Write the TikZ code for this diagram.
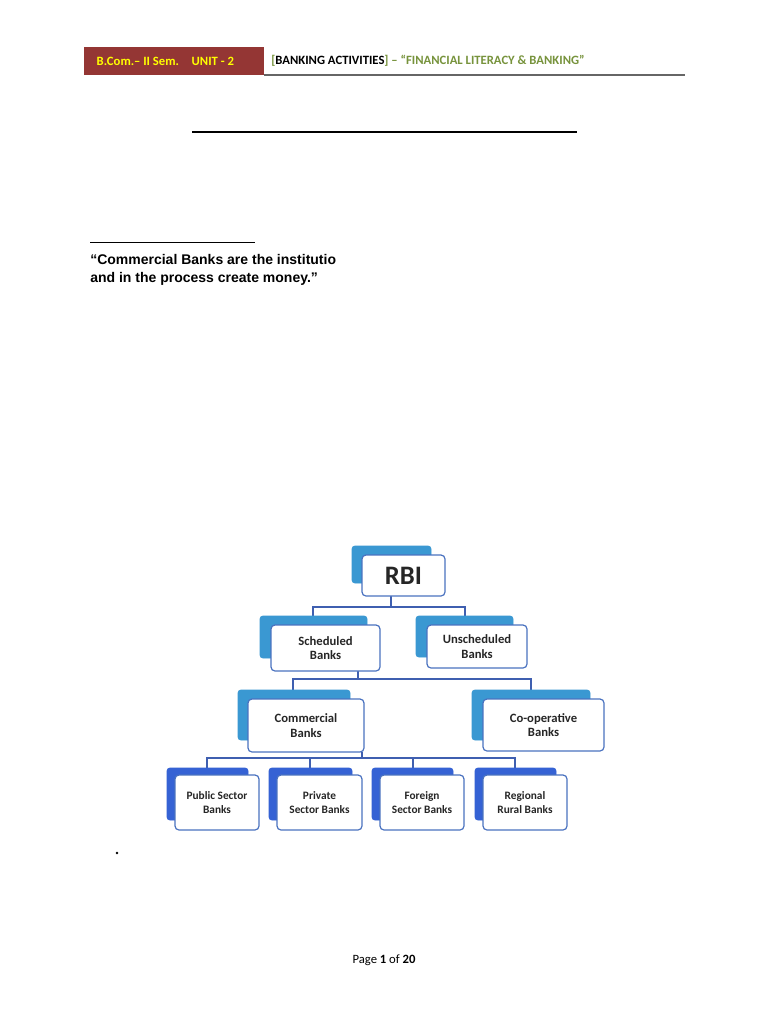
\documentclass[tikz,border=0pt]{standalone}
\usepackage{fontspec}
\setmainfont{Carlito}
\newfontfamily\arialf{Liberation Sans}
\definecolor{hdrred}{HTML}{943634}
\definecolor{hdryel}{HTML}{FFFF00}
\definecolor{hdrgrn}{HTML}{77933C}
\definecolor{lblue}{HTML}{3A98D2}
\definecolor{dblue}{HTML}{3562D4}
\definecolor{edgeb}{HTML}{4A72C0}
\definecolor{conn}{HTML}{3F5FB0}
\begin{document}
\begin{tikzpicture}[x=0.75pt,y=-0.75pt,
  backbox/.style={fill=#1,draw=#1,rounded corners=2pt},
  frontbox/.style={fill=white,draw=edgeb,line width=0.9pt,rounded corners=3pt},
  lbl/.style={font=\fontsize{9.5}{11}\selectfont\bfseries,align=center,text=black!85},
  smlbl/.style={font=\fontsize{8.5}{10}\selectfont\bfseries,align=center,text=black!85},
  conline/.style={draw=conn,line width=1pt}]
\useasboundingbox (0,0) rectangle (768,1024);
\fill[white] (0,0) rectangle (768,1024);
% header
\fill[hdrred] (84,47) rectangle (264,75);
\node[anchor=west,text=hdryel,font=\fontsize{9.5}{11}\selectfont\bfseries] (h1) at (92,61) {B.Com.– II Sem.\quad UNIT - 2};
\node[anchor=west,font=\fontsize{9.5}{11}\selectfont\bfseries,inner sep=0] (h2) at (271,61) {\textcolor{hdrgrn}{[}BANKING ACTIVITIES\textcolor{hdrgrn}{] – “FINANCIAL LITERACY \& BANKING”}};
\draw[gray!80!black,line width=1.2pt] (264,75) -- (685,75);
\draw[black,line width=1.3pt] (192,132) -- (577,132);
\draw[black,line width=0.6pt] (90,242) -- (255,242);
\node[anchor=west,inner sep=0,font=\arialf\fontsize{10.5}{12}\selectfont\bfseries] (q1) at (90,259) {“Commercial Banks are the institutio};
\node[anchor=west,inner sep=0,font=\arialf\fontsize{10.5}{12}\selectfont\bfseries] (q2) at (90,279) {and in the process create money.”};
\fill (117,853) circle (1.3);
\node[font=\fontsize{9.5}{11}\selectfont] (pg) at (384,960) {Page \textbf{1} of \textbf{20}};
% connectors (under boxes)
\draw[conline] (391,596) -- (391,607) (313,616) -- (313,607) -- (465,607) -- (465,616);
\draw[conline] (358,671) -- (358,679) (293,690) -- (293,679) -- (531,679) -- (531,690);
\draw[conline] (362,752) -- (362,758) (207,768) -- (207,758) -- (515,758) -- (515,768) (310,758) -- (310,768) (413,758) -- (413,768);
% RBI
\fill[backbox=lblue] (352,546) rectangle (431,583);
\node[frontbox,minimum width=62.25pt,minimum height=30.75pt] (rbi) at (403.5,575.5) {};
\node[font=\fontsize{20}{22}\selectfont\bfseries,text=black!85] (rbit) at (rbi) {RBI};
\fill[backbox=lblue] (260,616) rectangle (367,658);
\node[frontbox,minimum width=81.75pt,minimum height=34.5pt] (sch) at (325.5,648) {};
\node[lbl] (scht) at (sch) {Scheduled\\Banks};
\fill[backbox=lblue] (416,616) rectangle (513,657);
\node[frontbox,minimum width=75pt,minimum height=32.25pt] (uns) at (477,646.5) {};
\node[lbl] (unst) at (uns) {Unscheduled\\Banks};
\fill[backbox=lblue] (238,690) rectangle (350,740);
\node[frontbox,minimum width=87pt,minimum height=39.75pt] (com) at (306,725.5) {};
\node[lbl] (comt) at (com) {Commercial\\Banks};
\fill[backbox=lblue] (472,690) rectangle (590,740);
\node[frontbox,minimum width=90.75pt,minimum height=39pt] (coop) at (543.5,725) {};
\node[lbl] (coopt) at (coop) {Co-operative\\Banks};
\fill[backbox=dblue] (167,768) rectangle (248,820);
\node[frontbox,minimum width=63pt,minimum height=41.25pt] (pub) at (217,802.5) {};
\node[smlbl] (pubt) at (pub) {Public Sector\\Banks};
\fill[backbox=dblue] (269,768) rectangle (352,820);
\node[frontbox,minimum width=63.75pt,minimum height=41.25pt] (pri) at (319.5,802.5) {};
\node[smlbl] (prit) at (pri) {Private\\Sector Banks};
\fill[backbox=dblue] (372,768) rectangle (453,820);
\node[frontbox,minimum width=63pt,minimum height=41.25pt] (for) at (422,802.5) {};
\node[smlbl] (fort) at (for) {Foreign\\Sector Banks};
\fill[backbox=dblue] (475,768) rectangle (556,820);
\node[frontbox,minimum width=63pt,minimum height=41.25pt] (rrb) at (525,802.5) {};
\node[smlbl] (rrbt) at (rrb) {Regional\\Rural Banks};
\end{tikzpicture}
\end{document}
